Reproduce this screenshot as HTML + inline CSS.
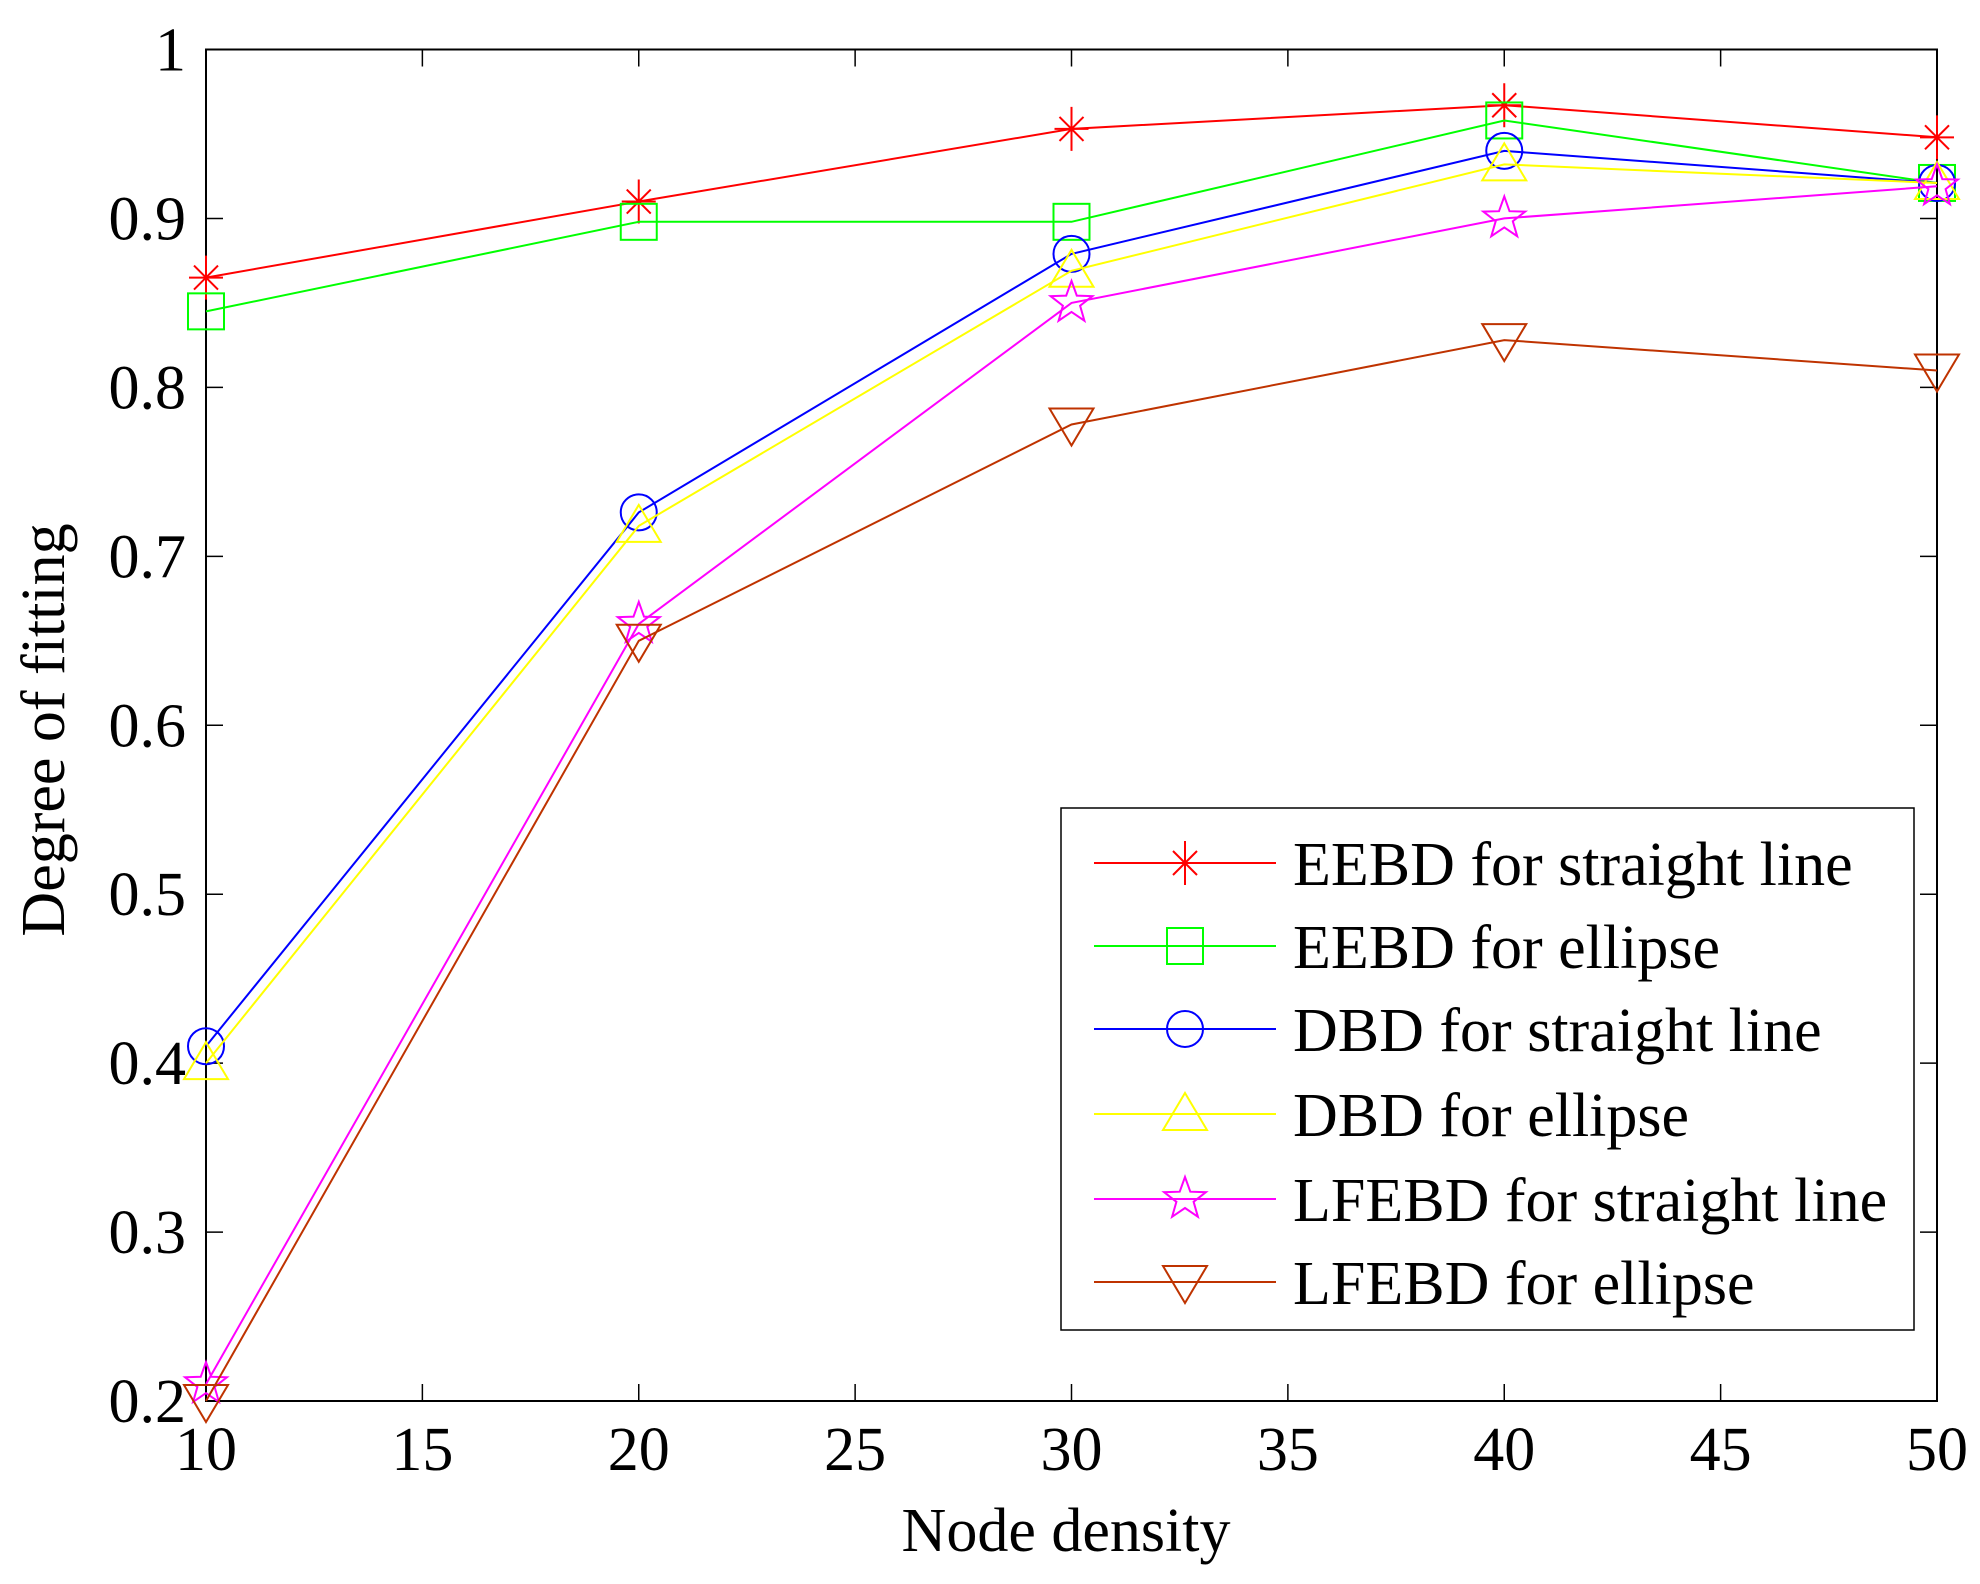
<!DOCTYPE html>
<html><head><meta charset="utf-8"><style>
html,body{margin:0;padding:0;background:#fff;}
svg{display:block;font-family:"Liberation Serif",serif;}
</style></head><body>
<svg id="chart" width="1980" height="1584" viewBox="0 0 1980 1584" xmlns="http://www.w3.org/2000/svg"></svg>
<script>
const categories = [10, 20, 30, 40, 50];
const xTicks = [10, 15, 20, 25, 30, 35, 40, 45, 50];
const yTicks = [0.2, 0.3, 0.4, 0.5, 0.6, 0.7, 0.8, 0.9, 1];
const yTickLabels = ["0.2", "0.3", "0.4", "0.5", "0.6", "0.7", "0.8", "0.9", "1"];
const seriesNames = ["EEBD for straight line", "EEBD for ellipse", "DBD for straight line", "DBD for ellipse", "LFEBD for straight line", "LFEBD for ellipse"];
const eebdLine = [0.865, 0.91, 0.953, 0.967, 0.948];
const eebdEllipse = [0.845, 0.898, 0.898, 0.958, 0.921];
const dbdLine = [0.41, 0.726, 0.879, 0.94, 0.921];
const dbdEllipse = [0.40, 0.718, 0.869, 0.932, 0.921];
const lfebdLine = [0.21, 0.66, 0.85, 0.90, 0.919];
const lfebdEllipse = [0.20, 0.65, 0.778, 0.828, 0.81];

const NS = "http://www.w3.org/2000/svg";
const svg = document.getElementById("chart");
const L = 206, R = 1937, T = 49.5, B = 1401;
const xScale = v => L + (v - 10) / 40 * (R - L);
const yScale = v => B - (v - 0.2) / 0.8 * (B - T);

function mk(tag, attrs, parent) {
  const e = document.createElementNS(NS, tag);
  for (const k in attrs) e.setAttribute(k, attrs[k]);
  (parent || svg).appendChild(e);
  return e;
}

// axes box
const box = mk("rect", {x: L, y: T, width: R - L, height: B - T, fill: "none", stroke: "#000", "stroke-width": 2});



const ticksG = mk("g", {stroke: "#000", "stroke-width": 1.5});


const labelsG = mk("g", {"font-size": 62, fill: "#000"});



xTicks.forEach(v => {
  const x = xScale(v);
  mk("line", {x1: x, y1: B, x2: x, y2: B - 17}, ticksG);
  mk("line", {x1: x, y1: T, x2: x, y2: T + 17}, ticksG);
  const t = mk("text", {x: x, y: 1470, "text-anchor": "middle"}, labelsG);
  t.textContent = String(v);
  
  
});
yTicks.forEach((v, i) => {
  const y = yScale(v);
  mk("line", {x1: L, y1: y, x2: L + 17, y2: y}, ticksG);
  mk("line", {x1: R, y1: y, x2: R - 17, y2: y}, ticksG);
  const t = mk("text", {x: 186, y: y + 21, "text-anchor": "end"}, labelsG);
  t.textContent = yTickLabels[i];
  
  
});

const xt = mk("text", {x: 1066, y: 1551, "text-anchor": "middle", "font-size": 62});
xt.textContent = "Node density";


const yt = mk("text", {x: 0, y: 0, "text-anchor": "middle", "font-size": 62, transform: "translate(64,730) rotate(-90)"});
yt.textContent = "Degree of fitting";



function marker(type, x, y, color, g) {
  const a = {fill: "none", stroke: color, "stroke-width": 2};
  let e;
  if (type === "star6") {
    e = mk("path", Object.assign({}, a, {d: `M${x-17} ${y}H${x+17}M${x} ${y-22}V${y+22}M${x-12} ${y-12}L${x+12} ${y+12}M${x-12} ${y+12}L${x+12} ${y-12}`}), g);
  } else if (type === "square") {
    e = mk("rect", Object.assign({}, a, {x: x - 18, y: y - 18, width: 36, height: 36}), g);
  } else if (type === "circle") {
    e = mk("circle", Object.assign({}, a, {cx: x, cy: y, r: 18}), g);
  } else if (type === "tri") {
    e = mk("polygon", Object.assign({}, a, {points: `${x},${y-21} ${x+22},${y+16} ${x-22},${y+16}`}), g);
  } else if (type === "pent") {
    let p = [];
    for (let k = 0; k < 10; k++) {
      const ang = -Math.PI / 2 + k * Math.PI / 5;
      const r = k % 2 ? 9 : 22;
      p.push((x + r * Math.cos(ang)).toFixed(1) + "," + (y + r * Math.sin(ang)).toFixed(1));
    }
    e = mk("polygon", Object.assign({}, a, {points: p.join(" ")}), g);
  } else {
    e = mk("polygon", Object.assign({}, a, {points: `${x-22},${y-16} ${x+22},${y-16} ${x},${y+21}`}), g);
  }
  
  
}

const series = [
  {vals: eebdLine, color: "#ff0000", m: "star6", name: "eebd-straight-line"},
  {vals: eebdEllipse, color: "#00ff00", m: "square", name: "eebd-ellipse"},
  {vals: dbdLine, color: "#0000ff", m: "circle", name: "dbd-straight-line"},
  {vals: dbdEllipse, color: "#ffff00", m: "tri", name: "dbd-ellipse"},
  {vals: lfebdLine, color: "#ff00ff", m: "pent", name: "lfebd-straight-line"},
  {vals: lfebdEllipse, color: "#bf3300", m: "vtri", name: "lfebd-ellipse"}
];

series.forEach(s => {
  const g = mk("g", {});
  
  
  const pts = s.vals.map((v, i) => xScale(categories[i]).toFixed(1) + "," + yScale(v).toFixed(1)).join(" ");
  const pl = mk("polyline", {points: pts, fill: "none", stroke: s.color, "stroke-width": 2}, g);
  
  
  s.vals.forEach((v, i) => marker(s.m, xScale(categories[i]), yScale(v), s.color, g));
});

// legend
const lg = mk("g", {});


mk("rect", {x: 1061, y: 808, width: 853, height: 522, fill: "#fff", stroke: "#000", "stroke-width": 1.5}, lg);
const rowY = [863, 946, 1029, 1114, 1199, 1282];
series.forEach((s, i) => {
  const eg = mk("g", {}, lg);
  
  
  const y = rowY[i];
  mk("line", {x1: 1094, y1: y, x2: 1276, y2: y, stroke: s.color, "stroke-width": 2}, eg);
  marker(s.m, 1185, y, s.color, eg);
  const t = mk("text", {x: 1293, y: y + 22, "font-size": 62}, eg);
  t.textContent = seriesNames[i];
  
  
});
</script>
</body></html>
